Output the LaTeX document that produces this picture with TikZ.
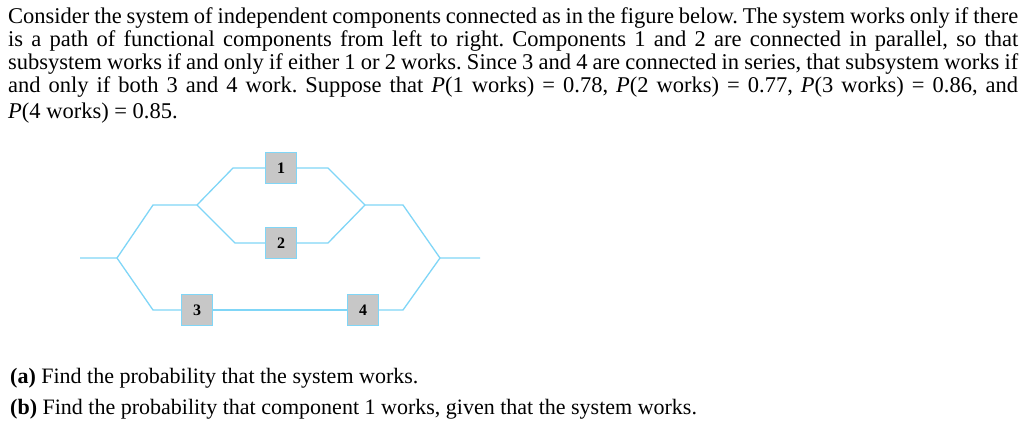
\documentclass[tikz,border=0pt]{standalone}
\usepackage{fontspec}
\setmainfont{Liberation Serif}
\frenchspacing
\begin{document}
\begin{tikzpicture}[x=1pt,y=-1pt,
  wire/.style={draw=cyan!50, line width=1.3pt},
  comp/.style={draw=cyan!50, line width=1.3pt, fill=black!22, minimum width=31pt, minimum height=31pt, inner sep=0pt, font=\bfseries\fontsize{16}{16}\selectfont}]
\useasboundingbox (0,0) rectangle (1024,421);
\fill[white] (0,0) rectangle (1024,421);
\newcommand{\txtline}[2]{\node[anchor=base west, inner sep=0pt] at (8,#1) {\fontsize{22.5}{24}\selectfont\makebox[1010pt][s]{#2}};}
\txtline{23}{Consider the system of independent components connected as in the figure below. The system works only if there}
\txtline{46}{is a path of functional components from left to right. Components 1 and 2 are connected in parallel, so that}
\txtline{69}{subsystem works if and only if either 1 or 2 works. Since 3 and 4 are connected in series, that subsystem works if}
\txtline{92}{and only if both 3 and 4 work. Suppose that \textit{P}(1 works) = 0.78, \textit{P}(2 works) = 0.77, \textit{P}(3 works) = 0.86, and}
\node[anchor=base west, inner sep=0pt] (l5) at (8,118) {\fontsize{22.5}{24}\selectfont\textit{P}(4 works) = 0.85.};
\node[anchor=base west, inner sep=0pt] (qa) at (10,383) {\fontsize{22}{24}\selectfont\textbf{(a)} Find the probability that the system works.};
\node[anchor=base west, inner sep=0pt] (qb) at (10,414) {\fontsize{22}{24}\selectfont\textbf{(b)} Find the probability that component 1 works, given that the system works.};
% components
\node[comp] (c1) at (281,168) {1};
\node[comp] (c2) at (281,243) {2};
\node[comp] (c3) at (197,310) {3};
\node[comp] (c4) at (363,310) {4};
\coordinate (in) at (80,258);
\coordinate (jl) at (117,258);
\coordinate (jr) at (440,258);
\coordinate (out) at (480,258);
\coordinate (pl) at (197,205);
\coordinate (pr) at (365,205);
\draw[wire] (in) -- (jl) -- (153,205) -- (pl) -- (233,168) -- (c1.west);
\draw[wire] (pl) -- (235,243) -- (c2.west);
\draw[wire] (c1.east) -- (328,168) -- (pr);
\draw[wire] (c2.east) -- (328,243) -- (pr);
\draw[wire] (pr) -- (403,205) -- (jr) -- (out);
\draw[wire] (jl) -- (153,310) -- (c3.west);
\draw[wire] (c3.east) -- (c4.west);
\draw[wire] (c4.east) -- (403,310) -- (jr);
\end{tikzpicture}
\end{document}
